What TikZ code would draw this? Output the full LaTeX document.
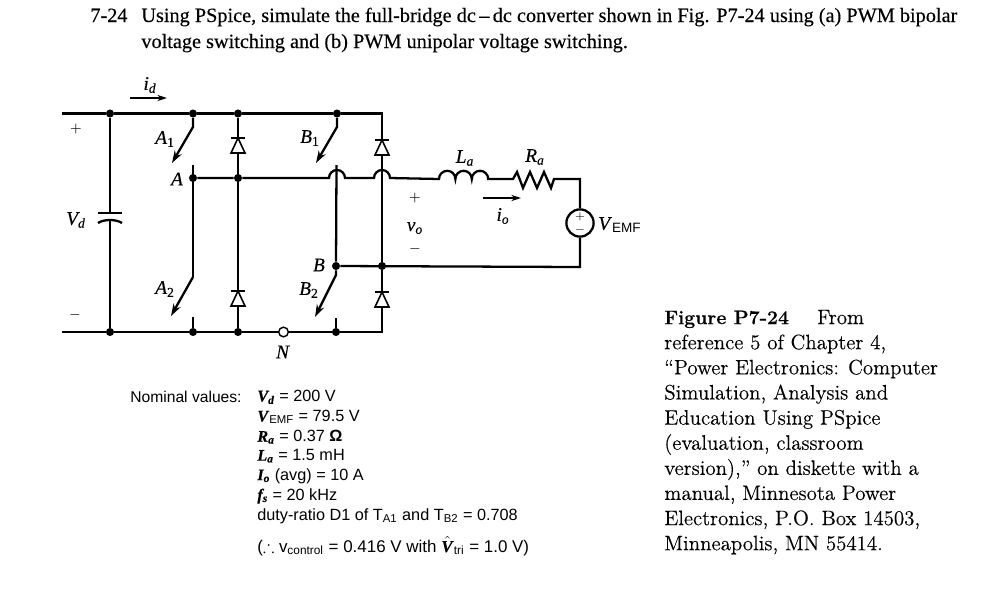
\documentclass[tikz,border=0pt]{standalone}
\usepackage{amsmath, amssymb}
\usepackage{fontspec}
\setmainfont[FakeBold=0.3]{Liberation Serif}
\setsansfont{Liberation Sans}
\newfontfamily\capfont[FakeBold=0.3]{Latin Modern Roman}
\usetikzlibrary{arrows.meta}
\tikzset{
	wire/.style={line width=1.3pt},
	dot/.style={circle, fill=black, inner sep=0pt, minimum size=4.6pt},
	opendot/.style={circle, draw, fill=white, line width=0.8pt, inner sep=0pt, minimum size=5.5pt},
	blade/.style={line width=1.3pt, -{Stealth[length=7pt,width=4.5pt]}},
	current/.style={line width=0.7pt, -{Stealth[length=5.5pt,width=3.5pt]}},
	lbl/.style={inner sep=0pt, font=\fontsize{11}{13}\selectfont},
	sgn/.style={inner sep=0pt, font=\fontsize{8}{9}\selectfont},
	vals/.style={inner sep=0pt, anchor=west, font=\sffamily\fontsize{9.25}{11}\selectfont},
	prob/.style={anchor=base west, inner sep=0pt, font=\fontsize{11.54}{14}\selectfont},
}
\newcommand{\mydiode}[2]{%
	\draw[line width=1.1pt] (#1-7,#2) -- (#1+7,#2);
	\draw[line width=0.9pt, fill=white] (#1,#2) -- (#1+7,#2+15) -- (#1-7,#2+15) -- cycle;
}
\newcommand{\bi}[1]{\textrm{\bfseries\itshape #1}}
\begin{document}
\begin{tikzpicture}[x=0.02cm, y=-0.02cm]
	\useasboundingbox (0,0) rectangle (993,599);

	\coordinate (topl) at (62,113.5);
	\node[dot] (t1) at (110,113.5) {};
	\node[dot] (t2) at (193,113.5) {};
	\node[dot] (t3) at (238,113.5) {};
	\node[dot] (t4) at (337,113.5) {};
	\coordinate (t5) at (382,113.5);

	\coordinate (botl) at (62,332);
	\node[dot] (b1) at (110,332) {};
	\node[dot] (b2) at (193,332) {};
	\node[dot] (b3) at (238,332) {};
	\node[opendot] (nn) at (283.5,332) {};
	\node[dot] (b4) at (336,332) {};
	\coordinate (b5) at (382,332);

	\node[dot] (na) at (193,178) {};
	\node[dot] (da) at (238,178) {};
	\node[dot] (nb) at (336,266) {};
	\node[dot] (db) at (382,266) {};

	\draw[wire] (topl) -- (t1) -- (t2) -- (t3) -- (t4) -- (t5) -- (db);
	\draw[wire] (botl) -- (b1) -- (b2) -- (b3) -- (nn) -- (b4) -- (b5) -- (db);
	\draw[wire] (t3) -- (b3);

	\coordinate (cap1) at (110,213);
	\coordinate (cap2) at (110,220);
	\draw[wire] (t1) -- (cap1);
	\draw[wire] (cap2) -- (b1);
	\draw[line width=1.3pt] (98,213) -- (122,213);
	\draw[line width=1.3pt] (98,223) .. controls (104,219) and (116,219) .. (122,223);

	\draw[blade] (t2) -- (193,127) -- (172,163);
	\draw[wire] (193,165) -- (193,277);
	\draw[blade] (193,277) -- (171,316);
	\draw[wire] (193,317) -- (b2);

	\draw[blade] (t4) -- (337,127) -- (316,163);
	\draw[wire] (336.5,165) -- (nb);
	\draw[blade] (nb) -- (336,275) -- (315,317);
	\draw[wire] (336,318) -- (b4);

	\mydiode{238}{138}
	\mydiode{238}{291}
	\mydiode{382}{140}
	\mydiode{382}{292}

	\coordinate (ll) at (439,179);
	\coordinate (rl) at (513,179);
	\coordinate (cn) at (580,179);
	\coordinate (cs) at (580,267);
	\node[circle, draw, line width=1.3pt, fill=white, inner sep=0pt, minimum size=15.5pt] (emf) at (580,223) {};

	\draw[wire] (na) -- (da) -- (329,178) arc[start angle=180, end angle=360, radius=8] -- (374,178) arc[start angle=180, end angle=360, radius=8] -- (ll)
		arc[start angle=180, end angle=360, radius=8.2] arc[start angle=180, end angle=360, radius=8.2] arc[start angle=180, end angle=360, radius=8.2] -- (rl)
		-- (517,172) -- (523,188) -- (530,172) -- (537,188) -- (544,172) -- (551,188) -- (554,179) -- (cn) -- (emf);
	\draw[wire] (emf) -- (cs) -- (nb);

	\node[inner sep=0pt, font=\fontsize{6}{7}\selectfont] (ep) at (580,217) {$+$};
	\node[inner sep=0pt, font=\fontsize{6}{7}\selectfont] (em) at (580,230) {$-$};

	\coordinate (ida) at (130,98);
	\coordinate (idb) at (167,98);
	\draw[current] (ida) -- (idb);
	\coordinate (ioa) at (483,198);
	\coordinate (iob) at (521,198);
	\draw[current] (ioa) -- (iob);

	\node[lbl] (lid) at (150,85) {\textit{i\textsubscript{d}}};
	\node[sgn] (lplus) at (76,129) {$+$};
	\node[sgn] (lminus) at (75,315) {$-$};
	\node[lbl] (lvd) at (76,220) {\textit{V\textsubscript{d}}};
	\node[lbl] (la1) at (165,139) {\textit{A}\textsubscript{1}};
	\node[lbl] (la) at (177,179) {\textit{A}};
	\node[lbl] (la2) at (165,289) {\textit{A}\textsubscript{2}};
	\node[lbl] (lb1) at (310,138) {\textit{B}\textsubscript{1}};
	\node[lbl] (lb) at (319,265) {\textit{B}};
	\node[lbl] (lb2) at (309,290) {\textit{B}\textsubscript{2}};
	\node[lbl] (ln) at (283,352) {\textit{N}};
	\node[sgn] (lvp) at (415,198) {$+$};
	\node[lbl] (lvo) at (415,228) {\textit{v\textsubscript{o}}};
	\node[sgn] (lvm) at (415,249) {$-$};
	\node[lbl] (lla) at (465,158) {\textit{L\textsubscript{a}}};
	\node[lbl] (lra) at (535,157) {\textit{R\textsubscript{a}}};
	\node[lbl] (lio) at (503,216) {\textit{i\textsubscript{o}}};
	\node[lbl, anchor=west] (lemf) at (598,225) {\textit{V}\textsf{\textsubscript{EMF}}};

	\node[prob] (q0) at (90,22) {7-24};
	\node[prob] (q1) at (141,22) {Using PSpice, simulate the full-bridge dc\,--\,dc converter shown in Fig. P7-24 using (a) PWM bipolar};
	\node[prob] (q2) at (141,48) {voltage switching and (b) PWM unipolar voltage switching.};

	\node[vals, font=\sffamily\fontsize{8.9}{11}\selectfont] (nv) at (130,397) {Nominal values:};
	\node[vals] (v1) at (257,397) {\bi{V\textsubscript{d}} = 200 V};
	\node[vals] (v2) at (257,417) {\bi{V}\textsubscript{EMF} = 79.5 V};
	\node[vals] (v3) at (257,437) {\bi{R\textsubscript{a}} = 0.37 \textbf{Ω}};
	\node[vals] (v4) at (257,456) {\bi{L\textsubscript{a}} = 1.5 mH};
	\node[vals] (v5) at (257,476) {\bi{I\textsubscript{o}} (avg) = 10 A};
	\node[vals] (v6) at (257,496) {\bi{f\textsubscript{s}} = 20 kHz};
	\node[vals] (v7) at (257,516) {duty-ratio D1 of T\textsubscript{A1} and T\textsubscript{B2} = 0.708};
	\node[vals, font=\sffamily\fontsize{9.65}{11}\selectfont] (v8) at (257,546) {($\therefore$ v\textsubscript{control} = 0.416 V with $\hat{\text{\bi{V}}}$\textsubscript{tri} = 1.0 V)};

	\node[anchor=north west, inner sep=0pt, align=left, font=\capfont\fontsize{11.9}{14.3}\selectfont] (cap) at (664,309.5) {{\fontsize{11.1}{14.3}\selectfont\textbf{Figure P7-24}}\hspace{1.35em}From\\reference 5 of Chapter 4,\\“Power Electronics: Computer\\Simulation, Analysis and\\Education Using PSpice\\(evaluation, classroom\\version),” on diskette with a\\manual, Minnesota Power\\Electronics, P.O. Box 14503,\\Minneapolis, MN 55414.};
\end{tikzpicture}
\end{document}
